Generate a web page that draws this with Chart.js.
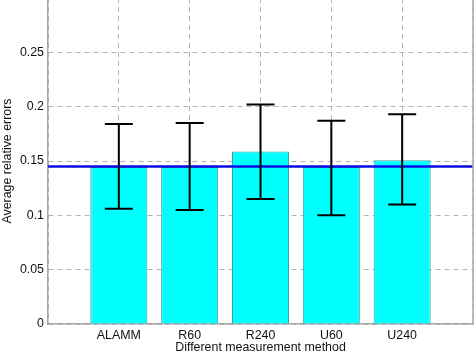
<!DOCTYPE html>
<html>
<head>
<meta charset="utf-8">
<script src="https://cdn.jsdelivr.net/npm/chart.js@4"></script>
<style>
  html, body { margin: 0; padding: 0; background: #fff; overflow: hidden; width: 474px; height: 355px; }
  #wrap { position: absolute; left: 0; top: -2px; width: 474px; height: 357px; }
</style>
</head>
<body>
<div id="wrap"><canvas id="c" width="474" height="357"></canvas></div>
<script>
// ---- data ----
const categories = ['ALAMM', 'R60', 'R240', 'U60', 'U240'];
const avgErrors  = [0.1445, 0.1445, 0.1588, 0.1445, 0.1508];
const errLow     = [0.106, 0.105, 0.115, 0.100, 0.110];
const errHigh    = [0.184, 0.185, 0.202, 0.187, 0.193];
const meanValue  = [0.145];
const yTicks     = [0, 0.05, 0.1, 0.15, 0.2, 0.25];

// category slots with empty ends (axis runs 0..6)
const labels = [''].concat(categories, ['']);
const barData = [null].concat(avgErrors, [null]);
const meanData = labels.map(() => meanValue[0]);

const FONT = 'Liberation Sans, Arial, Helvetica, sans-serif';
const GRID = '#b4b4b4';
const AXIS = '#a6a6a6';

const errorBarPlugin = {
  id: 'errorBars',
  afterDatasetsDraw(chart) {
    const ctx = chart.ctx;
    const meta = chart.getDatasetMeta(0);
    const y = chart.scales.y;
    ctx.save();
    ctx.strokeStyle = '#000';
    ctx.lineWidth = 2;
    categories.forEach((c, i) => {
      const el = meta.data[i + 1];
      if (!el) return;
      const x = el.x;
      const yl = y.getPixelForValue(errLow[i]);
      const yh = y.getPixelForValue(errHigh[i]);
      const cap = 14;
      ctx.beginPath();
      ctx.moveTo(x, yl); ctx.lineTo(x, yh);
      ctx.moveTo(x - cap, yl); ctx.lineTo(x + cap, yl);
      ctx.moveTo(x - cap, yh); ctx.lineTo(x + cap, yh);
      ctx.stroke();
    });
    ctx.restore();
  },
  afterDraw(chart) {
    const a = chart.chartArea;
    const ctx = chart.ctx;
    ctx.save();
    ctx.strokeStyle = AXIS;
    ctx.lineWidth = 1.5;
    ctx.beginPath();
    ctx.moveTo(a.right, a.top); ctx.lineTo(a.right, a.bottom);
    ctx.moveTo(a.left, a.top); ctx.lineTo(a.right, a.top);
    ctx.stroke();
    ctx.restore();
  }
};

new Chart(document.getElementById('c'), {
  type: 'bar',
  data: {
    labels: labels,
    datasets: [
      {
        type: 'bar',
        data: barData,
        backgroundColor: '#00ffff',
        borderColor: '#3f9f9f',
        borderWidth: 1,
        barPercentage: 0.805,
        categoryPercentage: 1.0,
        order: 2
      },
      {
        type: 'line',
        data: meanData,
        borderColor: '#0a0ae6',
        borderWidth: 2.5,
        pointRadius: 0,
        fill: false,
        tension: 0,
        order: 1
      }
    ]
  },
  options: {
    responsive: false,
    animation: false,
    devicePixelRatio: 1,
    layout: { padding: { top: 0, right: 1, bottom: 0, left: 0 } },
    plugins: { legend: { display: false }, tooltip: { enabled: false } },
    scales: {
      x: {
        type: 'category',
        offset: false,
        grid: { offset: false, color: GRID, lineWidth: 1, drawTicks: false },
        border: { display: true, color: AXIS, width: 1.5, dash: [5, 4] },
        ticks: { autoSkip: false, maxRotation: 0, padding: 4, color: '#111',
                 font: { family: FONT, size: 12.4 } },
        title: { display: true, text: 'Different measurement method', color: '#111',
                 padding: { top: 0, bottom: 0 }, font: { family: FONT, size: 12.4 } },
        afterFit(s) { s.height = 31; s.paddingLeft = 0; s.paddingRight = 0; }
      },
      y: {
        min: 0,
        max: 0.3,
        grid: { color: GRID, lineWidth: 1, drawTicks: false },
        border: { display: true, color: AXIS, width: 1.5, dash: [5, 4] },
        afterBuildTicks(s) {
          s.ticks = yTicks.concat([0.3]).map(v => ({ value: v }));
        },
        ticks: {
          padding: 4, color: '#111',
          font: { family: FONT, size: 12.4 },
          callback: (v) => yTicks.some(t => Math.abs(t - v) < 1e-9) ? String(+Number(v).toFixed(2)) : ''
        },
        title: { display: true, text: 'Average relative errors', color: '#111',
                 padding: { top: 0, bottom: 0 }, font: { family: FONT, size: 12.4 } },
        afterFit(s) { s.width = 48; s.paddingTop = 0; s.paddingBottom = 0; }
      }
    }
  },
  plugins: [errorBarPlugin]
});
</script>
</body>
</html>
